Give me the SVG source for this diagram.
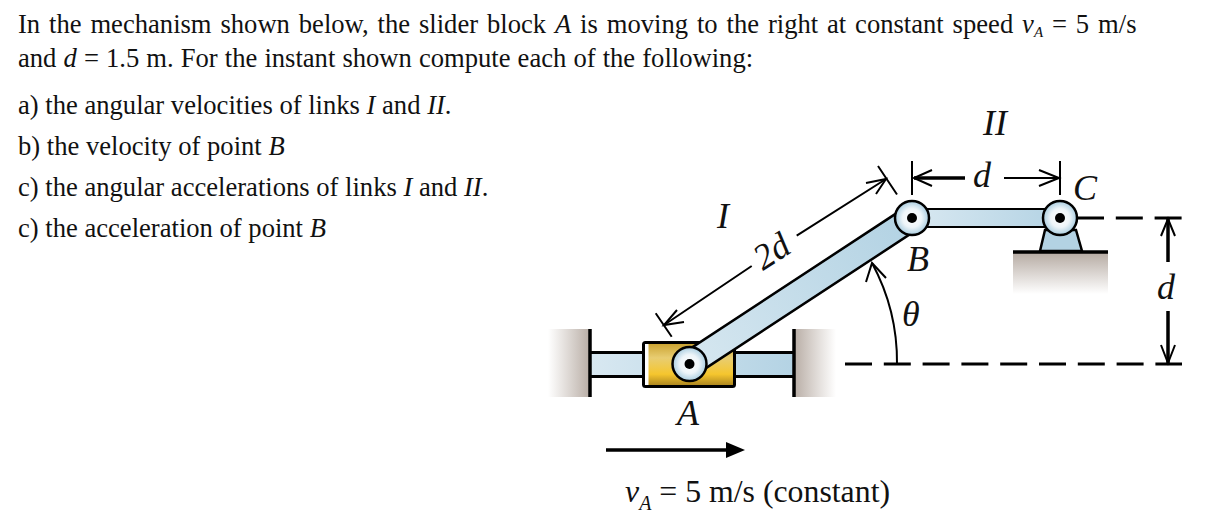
<svg xmlns="http://www.w3.org/2000/svg" width="1208" height="523" viewBox="0 0 1208 523">
<style>
text{font-family:"Liberation Serif","Times New Roman",serif;fill:#111}
.p{font-size:26.6px}
.l{font-size:36px;font-style:italic}
.i{font-style:italic}
.ln{fill:none;stroke:#000;stroke-width:2}
.h{fill:none;stroke:#000;stroke-width:3.5}
.e{stroke:#000;stroke-width:3}
.pin{fill:url(#pin);stroke:#000;stroke-width:2.5}
.dash{fill:none;stroke:#000;stroke-width:3;stroke-dasharray:27 11.8}
</style>
<defs>
<linearGradient id="rod" x1="0" x2="1" y1="0" y2="0"><stop offset="0" stop-color="#d8e8f1"/><stop offset="1" stop-color="#b4d3e4"/></linearGradient>
<linearGradient id="rod2" gradientUnits="userSpaceOnUse" x1="689" y1="364" x2="912" y2="218"><stop offset="0" stop-color="#d6e7f0"/><stop offset="1" stop-color="#b2d2e3"/></linearGradient>
<linearGradient id="wl" x1="0" x2="1" y1="0" y2="0"><stop offset="0" stop-color="#bdb2aa" stop-opacity="0"/><stop offset="1" stop-color="#b8ada5"/></linearGradient>
<linearGradient id="wr" x1="1" x2="0" y1="0" y2="0"><stop offset="0" stop-color="#bdb2aa" stop-opacity="0"/><stop offset="1" stop-color="#b8ada5"/></linearGradient>
<linearGradient id="gr" x1="0" x2="0" y1="0" y2="1"><stop offset="0" stop-color="#b5aaa2"/><stop offset="1" stop-color="#b5aaa2" stop-opacity="0"/></linearGradient>
<linearGradient id="gold" x1="0" x2="0" y1="0" y2="1"><stop offset="0" stop-color="#c9a02c"/><stop offset=".35" stop-color="#e8cd72"/><stop offset=".72" stop-color="#f5c62e"/><stop offset="1" stop-color="#a6801e"/></linearGradient>
<radialGradient id="pin"><stop offset="0" stop-color="#fff"/><stop offset=".55" stop-color="#eef5f9"/><stop offset="1" stop-color="#a9cde0"/></radialGradient>
</defs>

<g id="problem-text">
<text class="p" x="18" y="33" word-spacing="2.25">In the mechanism shown below, the slider block <tspan class="i">A</tspan> is moving to the right at constant speed <tspan class="i">v</tspan><tspan class="i" font-size="15" dy="4">A</tspan><tspan dy="-4"> = 5 m/s</tspan></text>
<text class="p" x="18" y="67" word-spacing="0.45">and <tspan class="i">d</tspan> = 1.5 m. For the instant shown compute each of the following:</text>
<text class="p" x="18" y="114">a) the angular velocities of links <tspan class="i">I</tspan> and <tspan class="i">II</tspan>.</text>
<text class="p" x="18" y="155">b) the velocity of point <tspan class="i">B</tspan></text>
<text class="p" x="18" y="196">c) the angular accelerations of links <tspan class="i">I</tspan> and <tspan class="i">II</tspan>.</text>
<text class="p" x="18" y="237">c) the acceleration of point <tspan class="i">B</tspan></text>
</g>

<g id="walls">
<rect x="548" y="329" width="42" height="68" fill="url(#wl)"/>
<rect x="794" y="329" width="42" height="68" fill="url(#wr)"/>
<rect x="1013" y="252" width="95" height="42" fill="url(#gr)"/>
</g>

<g id="guide-rod">
<rect x="590" y="352" width="204" height="25" fill="url(#rod)"/>
<path class="e" d="M590 352.500H794M590 376.500H794"/>
<path d="M590 329V397M794 329V397" fill="none" stroke="#000" stroke-width="3.500"/>
</g>

<g id="slider-A">
<rect x="643.500" y="342.500" width="91" height="44" rx="2" fill="url(#gold)" stroke="#000" stroke-width="3"/>
<rect x="645" y="344" width="3.500" height="41" fill="#fff"/>
</g>

<g id="support-C">
<path d="M1040 251L1045 230H1076L1082 251Z" fill="#b3d2e3" stroke="#000" stroke-width="2.500"/>
<path d="M1013 252H1108" stroke="#000" stroke-width="3.500"/>
</g>

<g id="link-II">
<rect x="912" y="209" width="148" height="18" fill="url(#rod)" stroke="#000" stroke-width="2"/>
</g>

<g id="link-I">
<path d="M696.400 374.400L918.900 228.400L905.100 207.600L682.600 353.600Z" fill="url(#rod2)" stroke="#000" stroke-width="2.500"/>
</g>

<g id="pin-A"><circle class="pin" cx="689.500" cy="364" r="17"/><circle cx="689.500" cy="364" r="5"/></g>
<g id="pin-B"><circle class="pin" cx="912" cy="218" r="17"/><circle cx="912" cy="218" r="5"/></g>
<g id="pin-C"><circle class="pin" cx="1060" cy="218" r="17"/><circle cx="1060" cy="218" r="5"/></g>

<g id="connectors">
<path class="dash" d="M845 364H1182"/>
<path class="dash" d="M1077 218H1182"/>
<path class="ln" d="M655.700 313.300L671.700 336.700M878 166L897 194.500"/>
<path class="ln" d="M664 325L751.700 266M796.700 235.700L886 179"/>
<path class="ln" d="M677 310L664 325L684 322"/>
<path class="ln" d="M866 183L886 179L876 194"/>
<path class="ln" d="M912 161V195M1060 161V195"/>
<path class="h" d="M914 178H965"/>
<path class="ln" d="M932 170L914 178L932 186"/>
<path class="ln" d="M1004 178H1059M1039 170L1059 178L1039 186"/>
<path class="h" d="M1168 219V262"/>
<path class="ln" d="M1161 236L1168 219L1175 236"/>
<path class="h" d="M1168 311V363"/>
<path class="ln" d="M1161 345L1168 363L1175 345"/>
<path class="ln" d="M897 364A207.500 207.500 0 0 0 872 263"/>
<path class="ln" d="M866 282L872 263L886 278"/>
<path d="M606 450H730" stroke="#000" stroke-width="3.500"/>
<path d="M726 442L745 450L726 458Z" fill="#000"/>
</g>

<g id="labels">
<text class="l" x="983" y="135">II</text>
<text class="l" x="717" y="228">I</text>
<text class="l" x="907" y="271">B</text>
<text class="l" x="1073" y="200">C</text>
<text class="l" x="973" y="187">d</text>
<text class="l" x="1157" y="299">d</text>
<text class="l" x="902" y="326">θ</text>
<text class="l" x="677" y="425">A</text>
<text class="l" transform="translate(763 271) rotate(-33)">2d</text>
<text x="625" y="502" font-size="31.8"><tspan class="i">v</tspan><tspan class="i" font-size="20" dy="8">A</tspan><tspan dy="-8"> = 5 m/s (constant)</tspan></text>
</g>
</svg>
